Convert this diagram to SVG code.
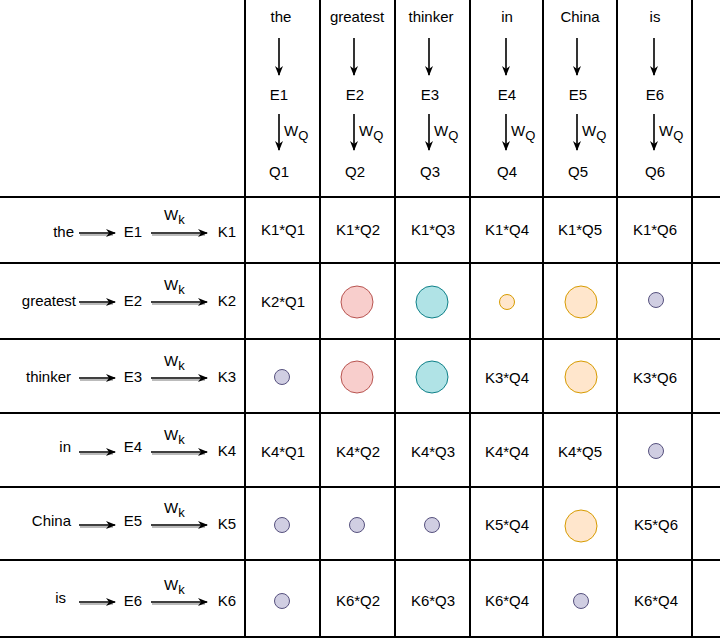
<svg xmlns="http://www.w3.org/2000/svg" width="720" height="639" viewBox="0 0 720 639">
<style>
text{font-family:"Liberation Sans",Arial,sans-serif;font-size:15px;fill:#000}
.c{text-anchor:middle}
.g{stroke:#000;stroke-width:2;fill:none}
.a{stroke:#000;stroke-width:1.6;fill:none;marker-end:url(#ah)}
.sh{stroke:#bbb;stroke-width:2;fill:none}
.r{fill:#f8cecc;stroke:#b85450}
.t{fill:#b0e3e6;stroke:#0e8088}
.o{fill:#ffe6cc;stroke:#d79b00}
.p{fill:#d0cee2;stroke:#56517e}
</style>
<defs><marker id="ah" markerWidth="10" markerHeight="8" refX="9" refY="4" orient="auto" markerUnits="userSpaceOnUse"><path d="M0,0 L10,4 L0,8 L3,4 Z" fill="#000"/></marker></defs>
<rect width="720" height="639" fill="#fff"/>
<g id="grid">
<path class="g" d="M245,0V637M320,0V637M395,0V637M470,0V637M543,0V637M617,0V637M692,0V637M0,197H720M0,263H720M0,339H720M0,413H720M0,487H720M0,560H720M0,637H720"/>
</g>
<g id="connectors">
<g id="top">
<path class="a" d="M279,38V75"/><path class="a" d="M354,38V75"/><path class="a" d="M429,38V75"/><path class="a" d="M506,38V75"/><path class="a" d="M577,38V75"/><path class="a" d="M654,38V75"/>
<path class="a" d="M279,114V150"/><path class="a" d="M354,114V150"/><path class="a" d="M429,114V150"/><path class="a" d="M506,114V150"/><path class="a" d="M577,114V150"/><path class="a" d="M654,114V150"/>
</g>
<g id="left">
<path class="sh" d="M80,235H113M80,304H113M80,380H113M80,454H113M80,527H113M80,604H113"/>
<path class="a" d="M79,233H115"/><path class="a" d="M79,302H115"/><path class="a" d="M79,378H115"/><path class="a" d="M79,452H115"/><path class="a" d="M79,525H115"/><path class="a" d="M79,602H115"/>
<path class="sh" d="M152,235H205M152,304H205M152,380H205M152,454H205M152,527H205M152,604H205"/>
<path class="a" d="M151,233H207"/><path class="a" d="M151,302H207"/><path class="a" d="M151,378H207"/><path class="a" d="M151,452H207"/><path class="a" d="M151,525H207"/><path class="a" d="M151,602H207"/>
</g>
</g>
<g id="header">
<text class="c" x="281" y="22">the</text><text class="c" x="357" y="22">greatest</text><text class="c" x="431" y="22">thinker</text><text class="c" x="507" y="22">in</text><text class="c" x="580" y="22">China</text><text class="c" x="655" y="22">is</text>
<text class="c" x="279" y="100">E1</text><text class="c" x="355" y="100">E2</text><text class="c" x="430" y="100">E3</text><text class="c" x="507" y="100">E4</text><text class="c" x="578" y="100">E5</text><text class="c" x="655" y="100">E6</text>
<g id="wq">
<text x="284" y="136">W<tspan font-size="13" dy="4">Q</tspan></text><text x="359" y="136">W<tspan font-size="13" dy="4">Q</tspan></text><text x="434" y="136">W<tspan font-size="13" dy="4">Q</tspan></text><text x="511" y="136">W<tspan font-size="13" dy="4">Q</tspan></text><text x="582" y="136">W<tspan font-size="13" dy="4">Q</tspan></text><text x="659" y="136">W<tspan font-size="13" dy="4">Q</tspan></text>
</g>
<text class="c" x="279" y="177">Q1</text><text class="c" x="355" y="177">Q2</text><text class="c" x="430" y="177">Q3</text><text class="c" x="507" y="177">Q4</text><text class="c" x="578" y="177">Q5</text><text class="c" x="655" y="177">Q6</text>
</g>
<g id="rowlabels">
<text text-anchor="end" x="74" y="237">the</text><text text-anchor="end" x="76" y="306">greatest</text><text text-anchor="end" x="71" y="382">thinker</text><text text-anchor="end" x="71" y="452">in</text><text text-anchor="end" x="71" y="526">China</text><text text-anchor="end" x="66" y="603">is</text>
<text class="c" x="133" y="237">E1</text><text class="c" x="133" y="306">E2</text><text class="c" x="133" y="382">E3</text><text class="c" x="133" y="452">E4</text><text class="c" x="133" y="526">E5</text><text class="c" x="133" y="606">E6</text>
<text class="c" x="227" y="237">K1</text><text class="c" x="227" y="306">K2</text><text class="c" x="227" y="382">K3</text><text class="c" x="227" y="456">K4</text><text class="c" x="227" y="529">K5</text><text class="c" x="227" y="606">K6</text>
<g id="wk">
<text x="164" y="220">W<tspan font-size="13" dy="4">k</tspan></text><text x="164" y="290">W<tspan font-size="13" dy="4">k</tspan></text><text x="164" y="366">W<tspan font-size="13" dy="4">k</tspan></text><text x="164" y="440">W<tspan font-size="13" dy="4">k</tspan></text><text x="164" y="513">W<tspan font-size="13" dy="4">k</tspan></text><text x="164" y="590">W<tspan font-size="13" dy="4">k</tspan></text>
</g>
</g>
<g id="cells">
<text class="c" x="283" y="235">K1*Q1</text><text class="c" x="358" y="235">K1*Q2</text><text class="c" x="433" y="235">K1*Q3</text><text class="c" x="507" y="235">K1*Q4</text><text class="c" x="580" y="235">K1*Q5</text><text class="c" x="655" y="235">K1*Q6</text>
<text class="c" x="283" y="307">K2*Q1</text>
<text class="c" x="507" y="383">K3*Q4</text><text class="c" x="655" y="383">K3*Q6</text>
<text class="c" x="283" y="457">K4*Q1</text><text class="c" x="358" y="457">K4*Q2</text><text class="c" x="433" y="457">K4*Q3</text><text class="c" x="507" y="457">K4*Q4</text><text class="c" x="580" y="457">K4*Q5</text>
<text class="c" x="507" y="530">K5*Q4</text><text class="c" x="656" y="530">K5*Q6</text>
<text class="c" x="358" y="606">K6*Q2</text><text class="c" x="433" y="606">K6*Q3</text><text class="c" x="507" y="606">K6*Q4</text><text class="c" x="656" y="606">K6*Q4</text>
</g>
<g id="circles">
<circle class="r" cx="357" cy="302" r="16"/><circle class="t" cx="432" cy="302" r="16"/><circle class="o" cx="507" cy="302" r="7.5"/><circle class="o" cx="581" cy="302" r="16"/><circle class="p" cx="656" cy="300" r="7.5"/>
<circle class="p" cx="282" cy="377" r="7.5"/><circle class="r" cx="357" cy="377" r="16"/><circle class="t" cx="432" cy="377" r="16"/><circle class="o" cx="581" cy="377" r="16"/>
<circle class="p" cx="656" cy="451" r="7.5"/>
<circle class="p" cx="282" cy="525" r="7.5"/><circle class="p" cx="357" cy="525" r="7.5"/><circle class="p" cx="432" cy="525" r="7.5"/><circle class="o" cx="581" cy="526" r="16"/>
<circle class="p" cx="282" cy="601" r="7.5"/><circle class="p" cx="581" cy="601" r="7.5"/>
</g>
</svg>
